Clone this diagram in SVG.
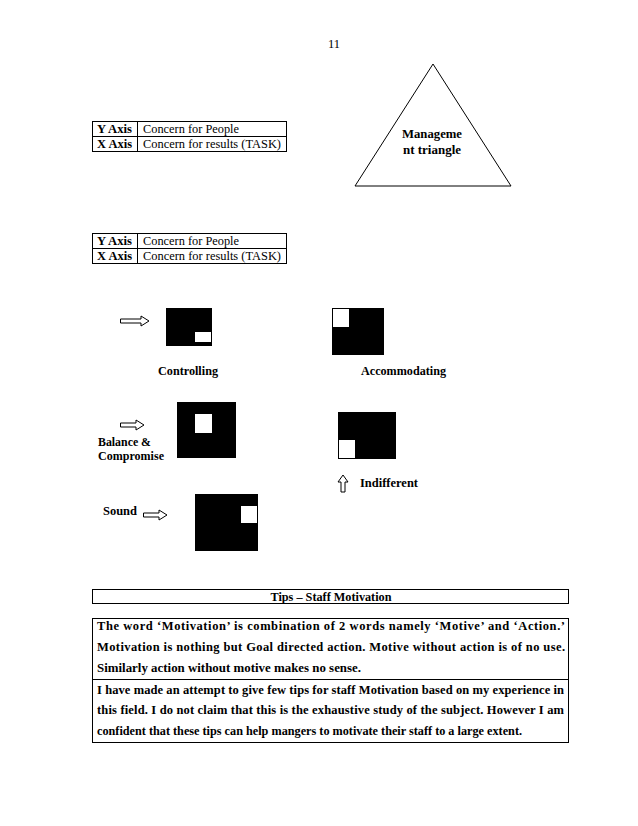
<svg xmlns="http://www.w3.org/2000/svg" width="638" height="826" viewBox="0 0 638 826">
<style>
.t{font-family:"Liberation Serif","DejaVu Serif",serif;fill:#000}
.b{font-weight:bold}
.s11{font-size:12px}
.s12{font-size:12.5px}
.ln{fill:none;stroke:#000;stroke-width:1}
.arr{fill:#fff;stroke:#000;stroke-width:1}
</style>
<rect width="638" height="826" fill="#fff"/>
<text class="t s12" x="334" y="48" text-anchor="middle">11</text>

<g id="table1">
<rect class="ln" x="92.5" y="121.5" width="194" height="30"/>
<line class="ln" x1="92.5" y1="136.5" x2="286.5" y2="136.5"/>
<line class="ln" x1="137.5" y1="121.5" x2="137.5" y2="151.5"/>
<text class="t b s11" x="97" y="133" textLength="35" lengthAdjust="spacingAndGlyphs">Y Axis</text>
<text class="t s11" x="143" y="133" textLength="96" lengthAdjust="spacingAndGlyphs">Concern for People</text>
<text class="t b s11" x="97" y="148" textLength="35" lengthAdjust="spacingAndGlyphs">X Axis</text>
<text class="t s11" x="143" y="148" textLength="138" lengthAdjust="spacingAndGlyphs">Concern for results (TASK)</text>
</g>

<g id="triangle">
<polygon class="ln" points="433,64 355,186 511,186"/>
<text class="t b s12" x="432" y="138" text-anchor="middle" textLength="60" lengthAdjust="spacingAndGlyphs">Manageme</text>
<text class="t b s12" x="432" y="154" text-anchor="middle" textLength="58" lengthAdjust="spacingAndGlyphs">nt triangle</text>
</g>

<g id="table2">
<rect class="ln" x="92.5" y="233.5" width="194" height="30"/>
<line class="ln" x1="92.5" y1="248.5" x2="286.5" y2="248.5"/>
<line class="ln" x1="137.5" y1="233.5" x2="137.5" y2="263.5"/>
<text class="t b s11" x="97" y="245" textLength="35" lengthAdjust="spacingAndGlyphs">Y Axis</text>
<text class="t s11" x="143" y="245" textLength="96" lengthAdjust="spacingAndGlyphs">Concern for People</text>
<text class="t b s11" x="97" y="260" textLength="35" lengthAdjust="spacingAndGlyphs">X Axis</text>
<text class="t s11" x="143" y="260" textLength="138" lengthAdjust="spacingAndGlyphs">Concern for results (TASK)</text>
</g>

<g id="controlling">
<rect x="166" y="308" width="46" height="38" fill="#000"/>
<rect x="195" y="332" width="16" height="10" fill="#fff"/>
<text class="t b s12" x="158" y="375" textLength="60" lengthAdjust="spacingAndGlyphs">Controlling</text>
</g>

<g id="accommodating">
<rect x="332" y="308" width="52" height="47" fill="#000"/>
<rect x="333" y="309" width="16" height="18" fill="#fff"/>
<text class="t b s12" x="361" y="375" textLength="85" lengthAdjust="spacingAndGlyphs">Accommodating</text>
</g>

<g id="balance">
<rect x="177" y="402" width="59" height="56" fill="#000"/>
<rect x="195" y="414" width="17" height="19" fill="#fff"/>
<text class="t b s12" x="98" y="446" textLength="53" lengthAdjust="spacingAndGlyphs">Balance &amp;</text>
<text class="t b s12" x="98" y="460" textLength="66" lengthAdjust="spacingAndGlyphs">Compromise</text>
</g>

<g id="indifferent">
<rect x="338" y="412" width="58" height="47" fill="#000"/>
<rect x="339" y="440" width="16" height="18" fill="#fff"/>
<text class="t b s12" x="360" y="487" textLength="58" lengthAdjust="spacingAndGlyphs">Indifferent</text>
</g>

<g id="sound">
<rect x="195" y="494" width="63" height="57" fill="#000"/>
<rect x="241" y="506" width="16" height="17" fill="#fff"/>
<text class="t b s12" x="103" y="515" textLength="34" lengthAdjust="spacingAndGlyphs">Sound</text>
</g>

<g id="connectors">
<polygon class="arr" points="120.5,319 141,319 141,316 149,321 141,326 141,323 120.5,323"/>
<polygon class="arr" points="120.5,423 136,423 136,420 144,425 136,430 136,427 120.5,427"/>
<polygon class="arr" points="143.5,513 159,513 159,510 167,515 159,520 159,517 143.5,517"/>
<polygon class="arr" points="341,492 341,482 338,482 343,475 348,482 345,482 345,492"/>
</g>

<g id="tips">
<rect class="ln" x="92.5" y="589.5" width="476" height="14"/>
<text class="t b s12" x="331" y="601" text-anchor="middle" textLength="121" lengthAdjust="spacingAndGlyphs">Tips – Staff Motivation</text>
<rect class="ln" x="92.5" y="618.5" width="476" height="124"/>
<line class="ln" x1="92.5" y1="679.5" x2="568.5" y2="679.5"/>
<text class="t b s12" x="97" y="630" textLength="468" lengthAdjust="spacing">The word ‘Motivation’ is combination of 2 words namely ‘Motive’ and ‘Action.’</text>
<text class="t b s12" x="97" y="651" textLength="468" lengthAdjust="spacing">Motivation is nothing but Goal directed action. Motive without action is of no use.</text>
<text class="t b s12" x="97" y="672" textLength="264" lengthAdjust="spacingAndGlyphs">Similarly action without motive makes no sense.</text>
<text class="t b s12" x="97" y="694" textLength="467" lengthAdjust="spacing">I have made an attempt to give few tips for staff Motivation based on my experience in</text>
<text class="t b s12" x="97" y="714" textLength="467" lengthAdjust="spacing">this field. I do not claim that this is the exhaustive study of the subject. However I am</text>
<text class="t b s12" x="97" y="735" textLength="425" lengthAdjust="spacingAndGlyphs">confident that these tips can help mangers to motivate their staff to a large extent.</text>
</g>
</svg>
